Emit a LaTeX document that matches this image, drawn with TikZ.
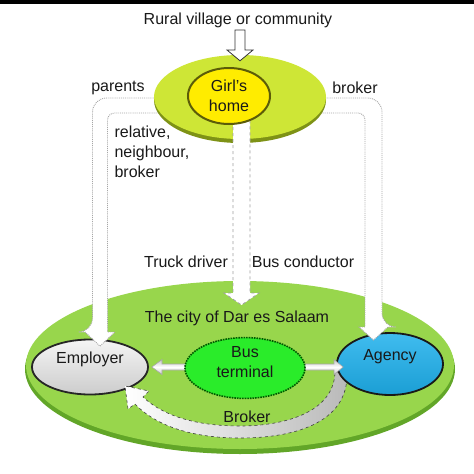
\documentclass[tikz,border=0pt]{standalone}
\usepackage{fontspec}
\setmainfont{Liberation Sans}
\usetikzlibrary{shapes.geometric}
\usetikzlibrary{calc}

\definecolor{villagegreen}{RGB}{206,230,54}
\definecolor{villageshade}{RGB}{126,146,22}
\definecolor{homeyellow}{RGB}{255,236,0}
\definecolor{homeborder}{RGB}{92,92,8}
\definecolor{citygreen}{RGB}{152,214,76}
\definecolor{cityshade}{RGB}{98,166,40}
\definecolor{busgreen}{RGB}{42,236,42}
\definecolor{agencyblue}{RGB}{30,176,236}

\begin{document}
\begin{tikzpicture}[x=1pt, y=-1pt,
  every node/.style={font=\fontsize{16}{20}\selectfont, align=center, text=black!90},
  place/.style={ellipse, inner sep=0pt},
  flow/.style={fill=white, draw=gray!70, densely dotted, line width=0.9pt},
  route/.style={fill=white, draw=gray!75, dashed, line width=0.8pt},
  sidearrow/.style={top color=gray!45, bottom color=gray!45, middle color=white, draw=gray!70, line width=0.6pt}]

\useasboundingbox (0,0) rectangle (474,474);
\fill[black] (0,0) rectangle (474,3.5);

% the city
\fill[cityshade] (240,369) ellipse[x radius=215, y radius=85];
\node[place, fill=citygreen, minimum width=428, minimum height=168] (city) at (240,365) {};
\node (citylabel) at (237,318) {The city of Dar es Salaam};

\node[place, draw=black!85, line width=1.8pt, top color=gray!8, bottom color=gray!40,
  minimum width=116, minimum height=55, text depth=18pt] (emp) at (90,367) {Employer};

% broker inside the city
\draw[left color=white, right color=gray!55, draw=gray!50!black, dashed, line width=0.6pt]
  ($(emp.center)+(257,5)$) .. controls (349,425) and (290,438) .. (240,438)
  .. controls (185,438) and (152,422) .. (135,404) -- (128,409) -- (125,386)
  -- (149,391) -- (143,397) .. controls (160,413) and (190,426) .. (240,426)
  .. controls (283,426) and (334,413) .. (335,372) -- cycle;
\node (brokercity) at (247,417) {Broker};

\node[place, draw=black!90, line width=1.8pt, top color=agencyblue!85!white, bottom color=agencyblue!90!black,
  minimum width=106, minimum height=62, text depth=18pt] (agency) at (390,364) {Agency};

\draw[sidearrow] (190,364) -- (162,364) -- (162,359.5) -- ($(emp.east)+(3,0)$) -- (162,374.5) -- (162,370) -- (190,370) -- cycle;
\draw[sidearrow] (300,364) -- (334,364) -- (334,359.5) -- ($(agency.west)+(7,3)$) -- (334,374.5) -- (334,370) -- (300,370) -- cycle;

\node[place, fill=busgreen, draw=green!35!black, densely dotted, line width=1.6pt,
  minimum width=120, minimum height=57, text depth=12pt] (bus) at (245,368) {Bus\\terminal};

% ways out of the village
\coordinate (parentstip) at ($(emp.north)+(10,7.5)$);
\coordinate (brokertip) at ($(agency.north)+(-16.5,8)$);
\draw[flow] (179,98) [rounded corners=14] -| (92.5,332) [sharp corners] -- (85,332) -- (parentstip)
  -- (115,332) -- (107.5,332) -- (107.5,320) [rounded corners=7] |- (179,113);
\draw[flow] (300,98) [rounded corners=14] -| (382,327) [sharp corners] -- (388,327) -- (brokertip)
  -- (359,327) -- (365,327) -- (365,315) [rounded corners=7] |- (300,113);

\fill[villageshade] (240,100) ellipse[x radius=86, y radius=43];
\node[place, fill=villagegreen, minimum width=172, minimum height=84] (village) at (240,97) {};

\draw[route] (233,115) -- (233,293) -- (224,293) -- ($(citylabel.north)+(4.5,-2)$) -- (259,293) -- (250,293) -- (250,115);

\node[place, fill=homeyellow, draw=homeborder, line width=2pt, minimum width=82, minimum height=56] (home) at (229,96) {Girl’s\\home};

\node (rural) at (238,20) {Rural village or community};
\draw[fill=white, draw=gray!40!black, line width=0.8pt] (235,30) -- (235,50) -- (227,50) -- ($(village.north)+(0,6)$)
  -- (253,50) -- (245,50) -- (245,30) -- cycle;

\node (parents) at (118,88) {parents};
\node (brokertop) at (355,88) {broker};
\node[anchor=west, align=left] (relatives) at (111,152) {relative,\\neighbour,\\broker};
\node (truck) at (186,262) {Truck driver};
\node (conductor) at (303,262) {Bus conductor};

\end{tikzpicture}
\end{document}
